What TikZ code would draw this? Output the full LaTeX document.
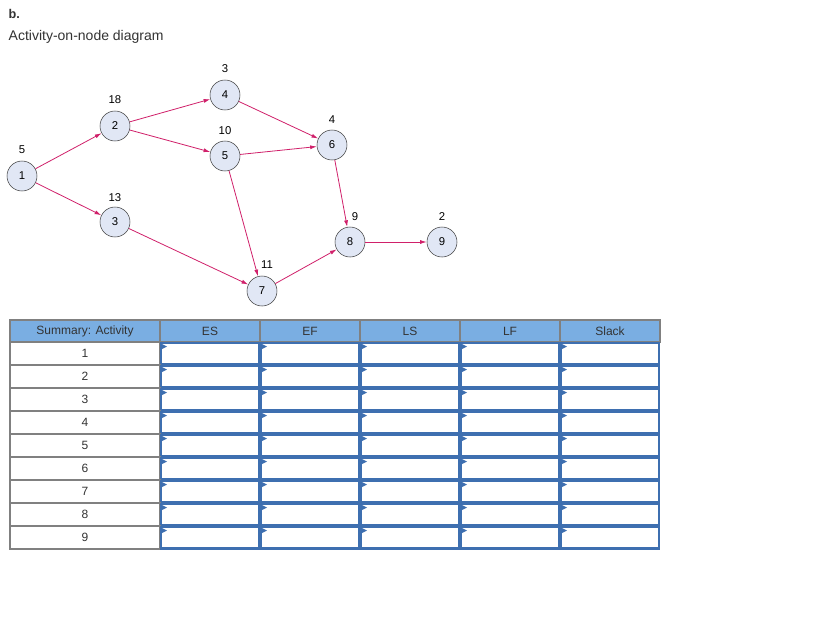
\documentclass[tikz,border=0pt]{standalone}
\usepackage{fontspec}
\setmainfont{Liberation Sans}
\usetikzlibrary{arrows.meta}
\definecolor{arr}{HTML}{D0206A}
\definecolor{nfill}{HTML}{E1E7F5}
\definecolor{hdr}{HTML}{7AAEE2}
\definecolor{cellb}{HTML}{3E6FB0}
\definecolor{txt}{HTML}{333333}
\tikzset{
  nd/.style={circle,draw=black!75,fill=nfill,minimum size=22.5pt,inner sep=0pt,font=\fontsize{8.5}{10}\selectfont},
  lbl/.style={font=\fontsize{8.5}{10}\selectfont},
  ar/.style={draw=arr,-{Latex[length=5pt,width=3pt]},line width=0.6pt},
  tx/.style={font=\fontsize{9}{11}\selectfont,text=txt}
}
\begin{document}
\begin{tikzpicture}[x=0.75pt,y=-0.75pt]
\useasboundingbox (0,0) rectangle (838,618);
\fill[white] (0,0) rectangle (838,618);
\node[anchor=west,text=txt,font=\fontsize{9.5}{12}\selectfont\bfseries] (tb) at (4,14) {b.};
\node[anchor=west,text=txt,font=\fontsize{10.5}{13}\selectfont] (tt) at (4,37) {Activity-on-node diagram};
\node[nd] (n1) at (22,176) {1};
\node[nd] (n2) at (115,126) {2};
\node[nd] (n3) at (115,222) {3};
\node[nd] (n4) at (225,95) {4};
\node[nd] (n5) at (225,156) {5};
\node[nd] (n6) at (332,145) {6};
\node[nd] (n7) at (262,291) {7};
\node[nd] (n8) at (350,242) {8};
\node[nd] (n9) at (442,242) {9};
\node[lbl] (l1) at (22,150) {5};
\node[lbl] (l2) at (115,100) {18};
\node[lbl] (l3) at (115,198) {13};
\node[lbl] (l4) at (225,69) {3};
\node[lbl] (l5) at (225,131) {10};
\node[lbl] (l6) at (332,120) {4};
\node[lbl] (l7) at (267,265) {11};
\node[lbl] (l8) at (355,217) {9};
\node[lbl] (l9) at (442,217) {2};
\draw[ar] (n1) -- (n2);
\draw[ar] (n1) -- (n3);
\draw[ar] (n2) -- (n4);
\draw[ar] (n2) -- (n5);
\draw[ar] (n4) -- (n6);
\draw[ar] (n5) -- (n6);
\draw[ar] (n5) -- (n7);
\draw[ar] (n3) -- (n7);
\draw[ar] (n7) -- (n8);
\draw[ar] (n6) -- (n8);
\draw[ar] (n8) -- (n9);
% table
\draw[fill=hdr,draw=black!50,line width=0.8pt] (10,320) rectangle (660,342);
\foreach \x in {160,260,360,460,560} \draw[black!50,line width=0.8pt] (\x,320) -- (\x,342);
\node[tx] (h0) at (85,331) {Summary: Activity};
\foreach \t/\x in {ES/210,EF/310,LS/410,LF/510,Slack/610}
  \node[tx] at (\x,331) {\t};
\foreach \i in {1,...,9}{
  \pgfmathsetmacro{\ya}{342+(\i-1)*23}
  \pgfmathsetmacro{\yb}{342+\i*23}
  \draw[black!50,line width=0.8pt] (10,\ya) rectangle (160,\yb);
  \node[tx] at (85,{(\ya+\yb)/2}) {\i};
  \foreach \x in {160,260,360,460,560}{
    \draw[cellb,line width=1.6pt,fill=white] (\x+1,\ya+1) rectangle (\x+99,\yb-0.5);
    \fill[cellb] (\x+2,\ya+2) -- (\x+7,\ya+4.5) -- (\x+2,\ya+7) -- cycle;
  }
}
\end{tikzpicture}
\end{document}
